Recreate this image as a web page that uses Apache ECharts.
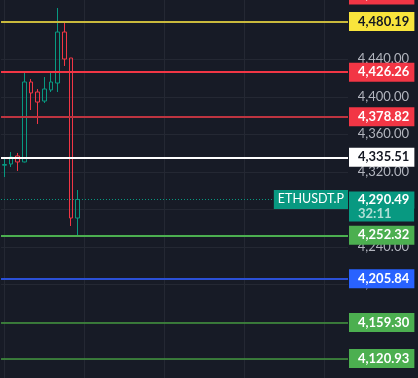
<!DOCTYPE html>
<html>
<head>
<meta charset="utf-8">
<script src="https://cdn.jsdelivr.net/npm/echarts@6/dist/echarts.min.js"></script>
<style>
html,body{margin:0;padding:0;background:#171b26;}
#c{width:418px;height:378px;}
</style>
</head>
<body>
<div id="c"></div>
<script>
// ---- data ----
const slotCount = 52; // visible time slots on the x axis
const categories = [];
for (let i = 0; i < slotCount; i++) { categories.push('T' + (i + 1)); }

const opens  = [4327.0, 4328.3, 4336.9, 4330.5, 4415.8, 4405.1, 4395.5, 4407.3, 4414.7, 4469.1, 4441.4, 4270.7];
const closes = [4327.8, 4335.8, 4330.5, 4415.8, 4404.1, 4394.4, 4408.3, 4415.8, 4469.1, 4440.3, 4270.7, 4290.49];
const lows   = [4314.4, 4325.1, 4320.9, 4330.0, 4385.9, 4371.0, 4393.4, 4405.1, 4405.1, 4432.9, 4262.2, 4251.5];
const highs  = [4333.6, 4341.1, 4340.1, 4427.5, 4419.0, 4408.3, 4421.1, 4425.4, 4494.7, 4478.7, 4441.4, 4300.6];

const levelPrices = [4508.60, 4480.19, 4426.26, 4378.82, 4335.51, 4252.32, 4205.84, 4159.30, 4120.93];
const lastPrice = 4290.49;
const symbolName = 'ETHUSDT.P';
const countdown = '32:11';

const yMin = 4080, yMax = 4520, yStep = 40;

// ---- styles ----
const BG = '#171b26';
const UP = '#089981', DOWN = '#f23645';
const levelStyles = [
  {line: '#f23645', box: '#f23645', text: '#ffffff', width: 2},
  {line: '#c9b93c', box: '#f9e43c', text: '#131722', width: 2},
  {line: '#f23645', box: '#f23645', text: '#ffffff', width: 2},
  {line: '#bd3440', box: '#f23645', text: '#ffffff', width: 2},
  {line: '#ffffff', box: '#ffffff', text: '#131722', width: 2},
  {line: '#4caf50', box: '#4caf50', text: '#ffffff', width: 2},
  {line: '#2b50d6', box: '#2962ff', text: '#ffffff', width: 2},
  {line: '#43973f', box: '#4caf50', text: '#ffffff', width: 1.5},
  {line: '#43973f', box: '#4caf50', text: '#ffffff', width: 1.5}
];
const FONT = 'Lato';
const fmt = v => v.toLocaleString('en-US', {minimumFractionDigits: 2, maximumFractionDigits: 2});

const candleData = opens.map((o, i) => [o, closes[i], lows[i], highs[i]]);

const baseLabel = {
  show: true, position: 'end', distance: 1,
  fontFamily: FONT, fontSize: 13, fontWeight: 'bold', lineHeight: 15,
  padding: [2, 5, 2, 9]
};

const markData = [];
// symbol name box (inside the plot, left of the price scale)
markData.push({
  yAxis: lastPrice,
  lineStyle: {color: UP, type: [1, 2], width: 1},
  label: Object.assign({}, baseLabel, {
    position: 'insideEnd', distance: 0, formatter: symbolName, verticalAlign: 'middle',
    fontWeight: 'normal', fontSize: 12.5,
    backgroundColor: UP, color: '#ffffff', padding: [2, 4, 2, 4]
  })
});
// last price + countdown box
markData.push({
  yAxis: lastPrice,
  lineStyle: {color: UP, type: [1, 2], width: 1},
  label: {
    show: true, position: 'end', distance: 1,
    formatter: '{s|\u00a0}\n{p|' + fmt(lastPrice) + '}\n{c|' + countdown + '}',
    rich: {
      s: {fontFamily: FONT, fontSize: 13, lineHeight: 15},
      p: {fontFamily: FONT, fontSize: 13, fontWeight: 'bold', lineHeight: 15,
          color: '#ffffff', backgroundColor: UP, padding: [2, 5, 2, 9]},
      c: {fontFamily: FONT, fontSize: 13, fontWeight: 'bold', lineHeight: 14,
          color: 'rgba(255,255,255,0.68)', backgroundColor: UP, padding: [0, 22.6, 1, 9]}
    }
  }
});
levelPrices.forEach((p, i) => {
  const s = levelStyles[i];
  markData.push({
    yAxis: p,
    lineStyle: {color: s.line, type: 'solid', width: s.width},
    label: Object.assign({}, baseLabel, {
      formatter: fmt(p), backgroundColor: s.box, color: s.text
    })
  });
});

const chart = echarts.init(document.getElementById('c'), null, {renderer: 'canvas'});
chart.setOption({
  backgroundColor: BG,
  animation: false,
  grid: {left: 1, right: 70, top: -15.7, bottom: -18.8, containLabel: false, outerBoundsMode: 'none'},
  xAxis: {
    type: 'category', data: categories, boundaryGap: true,
    axisLine: {show: false}, axisTick: {show: false}, axisLabel: {show: false},
    splitLine: {show: true, alignWithLabel: true, interval: (i) => i % 12 === 0,
      lineStyle: {color: '#242833', width: 1}}
  },
  yAxis: {
    type: 'value', position: 'right', min: yMin, max: yMax, interval: yStep,
    axisLine: {show: false}, axisTick: {show: false},
    axisLabel: {color: '#b2b5be', fontFamily: FONT, fontSize: 13, margin: 61, align: 'right',
      formatter: v => fmt(v)},
    splitLine: {show: true, lineStyle: {color: '#242833', width: 1}}
  },
  series: [{
    type: 'candlestick',
    data: candleData,
    barWidth: 4,
    itemStyle: {
      color: 'rgba(0,0,0,0)', color0: 'rgba(0,0,0,0)',
      borderColor: UP, borderColor0: DOWN, borderWidth: 1
    },
    markLine: {
      silent: true, symbol: 'none', animation: false,
      data: markData
    }
  }]
});
</script>
</body>
</html>
